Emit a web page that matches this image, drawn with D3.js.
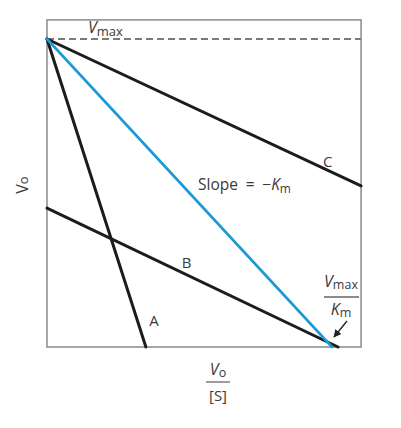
<!DOCTYPE html>
<html lang="en">
<head>
<meta charset="UTF-8">
<title>Eadie-Hofstee</title>
<script src="https://d3js.org/d3.v7.min.js"></script>
<style>
  body { margin: 0; background: #fff; }
  text { font-family: "Open Sans", "Noto Sans", sans-serif; fill: #3a3a3a; }
</style>
</head>
<body>
<script>
// x in units of Vmax/Km, y in units of Vmax
const frame = { xMax: 1.102, yMax: 1.062 };
const vmax = 1;

const lineNames = ["A", "B", "C", "theory"];
const lineX = [[0, 0.347], [0, 1.021], [0, 1.102], [0, 1]];
const lineY = [[1, 0], [0.451, 0], [1, 0.523], [1, 0]];
const lineColors = ["#1c1c1c", "#1c1c1c", "#1c1c1c", "#1b9ad6"];

// label positions in data units
const letterLabels = ["A", "B", "C"];
const letterX = [0.375, 0.49, 0.985];
const letterY = [0.067, 0.257, 0.585];

const w = 401, h = 428;
const svg = d3.select("body").append("svg").attr("width", w).attr("height", h);

const x = d3.scaleLinear().domain([0, 1]).range([47, 332]);
const y = d3.scaleLinear().domain([0, 1]).range([347, 39]);

// frame
svg.append("rect")
  .attr("x", x(0)).attr("y", y(frame.yMax))
  .attr("width", x(frame.xMax) - x(0)).attr("height", y(0) - y(frame.yMax))
  .attr("fill", "none").attr("stroke", "#8a8a8a").attr("stroke-width", 1.5);

// Vmax dashed line
svg.append("line")
  .attr("x1", x(0)).attr("x2", x(frame.xMax))
  .attr("y1", y(vmax)).attr("y2", y(vmax))
  .attr("stroke", "#7a7a7a").attr("stroke-width", 1.8)
  .attr("stroke-dasharray", "7,4");

const line = d3.line().x(d => x(d[0])).y(d => y(d[1]));

lineNames.forEach((name, i) => {
  const pts = lineX[i].map((v, j) => [v, lineY[i][j]]);
  svg.append("path")
    .attr("d", line(pts))
    .attr("fill", "none")
    .attr("stroke", lineColors[i])
    .attr("stroke-width", name === "theory" ? 2.6 : 3)
    .attr("stroke-linecap", "round");
});

letterLabels.forEach((t, i) => {
  svg.append("text")
    .attr("x", x(letterX[i])).attr("y", y(letterY[i]))
    .attr("font-size", 15).attr("text-anchor", "middle")
    .text(t);
});

// Vmax label
const vm = svg.append("text").attr("x", 88).attr("y", 33).attr("font-size", 16);
vm.append("tspan").attr("font-style", "italic").text("V");
vm.append("tspan").attr("font-size", 13).attr("dy", 3).text("max");

// slope label
const sl = svg.append("text").attr("x", 198).attr("y", 190).attr("font-size", 15.5);
sl.append("tspan").text("Slope\u2002=\u2002\u2212");
sl.append("tspan").attr("font-style", "italic").text("K");
sl.append("tspan").attr("font-size", 12).attr("dy", 3).text("m");

// Vmax / Km fraction near x-intercept
const fx = 341;
const f1 = svg.append("text").attr("x", fx).attr("y", 287).attr("font-size", 16).attr("text-anchor", "middle");
f1.append("tspan").attr("font-style", "italic").text("V");
f1.append("tspan").attr("font-size", 12.5).attr("dy", 2).text("max");
svg.append("line").attr("x1", 324).attr("x2", 359).attr("y1", 297).attr("y2", 297)
  .attr("stroke", "#666").attr("stroke-width", 1.3);
const f2 = svg.append("text").attr("x", fx).attr("y", 315).attr("font-size", 16).attr("text-anchor", "middle");
f2.append("tspan").attr("font-style", "italic").text("K");
f2.append("tspan").attr("font-size", 12.5).attr("dy", 2).text("m");

// arrow
svg.append("defs").append("marker")
  .attr("id", "ah").attr("viewBox", "0 0 10 10").attr("refX", 9).attr("refY", 5)
  .attr("markerWidth", 6).attr("markerHeight", 6).attr("orient", "auto")
  .append("path").attr("d", "M0,0 L10,5 L0,10 Z").attr("fill", "#222");
svg.append("line").attr("x1", 347).attr("y1", 321).attr("x2", 334).attr("y2", 337)
  .attr("stroke", "#222").attr("stroke-width", 1.3).attr("marker-end", "url(#ah)");

// y-axis label
const yl = svg.append("text").attr("transform", "translate(28,185) rotate(-90)")
  .attr("font-size", 16).attr("text-anchor", "middle");
yl.append("tspan").text("V");
yl.append("tspan").attr("font-size", 13).attr("dy", 0).text("o");

// x-axis label fraction
const xc = 218;
const xl = svg.append("text").attr("x", xc).attr("y", 375).attr("font-size", 16).attr("text-anchor", "middle");
xl.append("tspan").attr("font-style", "italic").text("V");
xl.append("tspan").attr("font-size", 12.5).attr("dy", 2).text("o");
svg.append("line").attr("x1", 206).attr("x2", 230).attr("y1", 382).attr("y2", 382)
  .attr("stroke", "#666").attr("stroke-width", 1.3);
svg.append("text").attr("x", xc).attr("y", 401).attr("font-size", 15).attr("text-anchor", "middle").text("[S]");
</script>
</body>
</html>
